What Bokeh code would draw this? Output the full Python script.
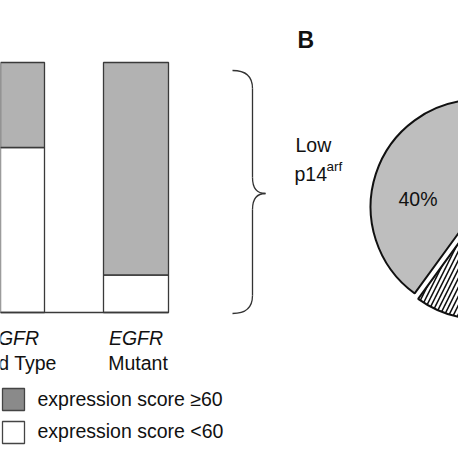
import math
import numpy as np
from bokeh.plotting import figure
from bokeh.models import Range1d, ColumnDataSource
from bokeh.core.properties import value
from bokeh.embed import file_html
from bokeh.resources import INLINE

# ---------------- data ----------------
groups = ["Wild Type", "Mutant"]
gene_labels = ["EGFR", "EGFR"]
low_pct = [66, 15]     # expression score <60 (white)
high_pct = [34, 85]    # expression score >=60 (gray)
legend_labels = ["expression score \u226560", "expression score <60"]
pie_values = [40, 30, 30]
pie_labels = ["40%", "", ""]

FONT = "Liberation Sans"
W = H = 458

def Y(py):
    # picture y (from top) -> data y (upwards)
    return H - py

p = figure(width=W, height=H, x_range=Range1d(0, W), y_range=Range1d(0, H),
           output_backend="svg", toolbar_location=None, min_border=0)
p.axis.visible = False
p.grid.visible = False
p.outline_line_color = None
p.background_fill_color = "white"

# percentage range for the bars: 0% at picture y 312, 100% at picture y 62
px_per_pct = (312 - 62) / 100.0
p.extra_y_ranges = {"pct": Range1d(-(H - 312) / px_per_pct, 100 + 62 / px_per_pct)}

bar_x = [11.5, 135.5]
bar_w = 65
edge = "#3a3a3a"
src = ColumnDataSource(dict(x=bar_x, low=low_pct, high=high_pct,
                            top=[a + b for a, b in zip(low_pct, high_pct)]))
p.vbar(x="x", width=bar_w, bottom=0, top="low", source=src, y_range_name="pct",
       fill_color="white", line_color=edge, line_width=1.3)
p.vbar(x="x", width=bar_w, bottom="low", top="top", source=src, y_range_name="pct",
       fill_color="#b2b2b2", line_color=edge, line_width=1.3)
p.segment(x0=[bar_x[0] - bar_w / 2], x1=[bar_x[-1] + bar_w / 2], y0=[0], y1=[0],
          y_range_name="pct", line_color=edge, line_width=1.3)

TXT = dict(text_font=value(FONT), text_baseline="middle", text_color="#111111")

# category labels
p.text(x=bar_x, y=[Y(337.5)] * 2, text=gene_labels, text_align="center",
       text_font_style="italic", text_font_size="19.5px", **TXT)
p.text(x=[bar_x[0] + 2, bar_x[1] + 2], y=[Y(362.5)] * 2, text=groups, text_align="center",
       text_font_size="19.5px", **TXT)

# legend
p.rect(x=[13, 13], y=[Y(399), Y(432)], width=22, height=22,
       fill_color=["#8a8a8a", "white"], line_color="#444444", line_width=1.3)
p.text(x=[37, 37], y=[Y(398.5), Y(430.5)], text=legend_labels, text_align="left",
       text_font_size="19.5px", **TXT)

# brace
bx_end, bx_v, bx_tip = 232, 252, 265
top, mid, bot = 70, 193, 313
p.quadratic(x0=[bx_end, bx_v, bx_tip, bx_v], y0=[Y(top), Y(mid - 16), Y(mid), Y(bot - 18)],
            x1=[bx_v, bx_tip, bx_v, bx_end], y1=[Y(top + 18), Y(mid), Y(mid + 16), Y(bot)],
            cx=[bx_v, bx_v, bx_v, bx_v], cy=[Y(top), Y(mid), Y(mid), Y(bot)],
            line_color="#333333", line_width=1.3)
p.segment(x0=[bx_v, bx_v], y0=[Y(top + 18), Y(mid + 16)], x1=[bx_v, bx_v],
          y1=[Y(mid - 16), Y(bot - 18)], line_color="#333333", line_width=1.3)

# Low p14arf
p.text(x=[295], y=[Y(144)], text=["Low"], text_font_size="19.5px", **TXT)
p.text(x=[294], y=[Y(173)], text=["p14"], text_font_size="19.5px", **TXT)
p.text(x=[326], y=[Y(166)], text=["arf"], text_font_size="13.5px", **TXT)

# panel letter
p.text(x=[297], y=[Y(39.5)], text=["B"], text_font_size="23px",
       text_font_style="bold", **TXT)

# pie
cx, cy, r = 479, Y(207), 107
vals = np.array(pie_values, dtype=float)
fr = vals / vals.sum()
starts = math.pi / 2 + 2 * math.pi * np.concatenate([[0], np.cumsum(fr)[:-1]])
ends = starts + 2 * math.pi * fr
mids = (starts + ends) / 2
explode = [2, 5, 3]
wx = [cx + e * math.cos(m) for e, m in zip(explode, mids)]
wy = [cy + e * math.sin(m) for e, m in zip(explode, mids)]
fills = ["#bebebe", "white", "white"]
hatches = [" ", "/", " "]
for i in range(len(vals)):
    p.wedge(x=[wx[i]], y=[wy[i]], radius=r, radius_units="screen",
            start_angle=[starts[i]], end_angle=[ends[i]], direction="anticlock",
            fill_color=fills[i], line_color="#111111", line_width=2,
            hatch_pattern=hatches[i], hatch_color="#111111", hatch_scale=9, hatch_weight=1.6)

lab_ang = mids[0] + math.radians(10)
lab_r = 0.58 * r
p.text(x=[cx + lab_r * math.cos(lab_ang)], y=[cy + lab_r * math.sin(lab_ang)],
       text=[pie_labels[0]], text_align="center", text_font_size="19.5px", **TXT)

open("out.html", "w").write(file_html(p, INLINE))
